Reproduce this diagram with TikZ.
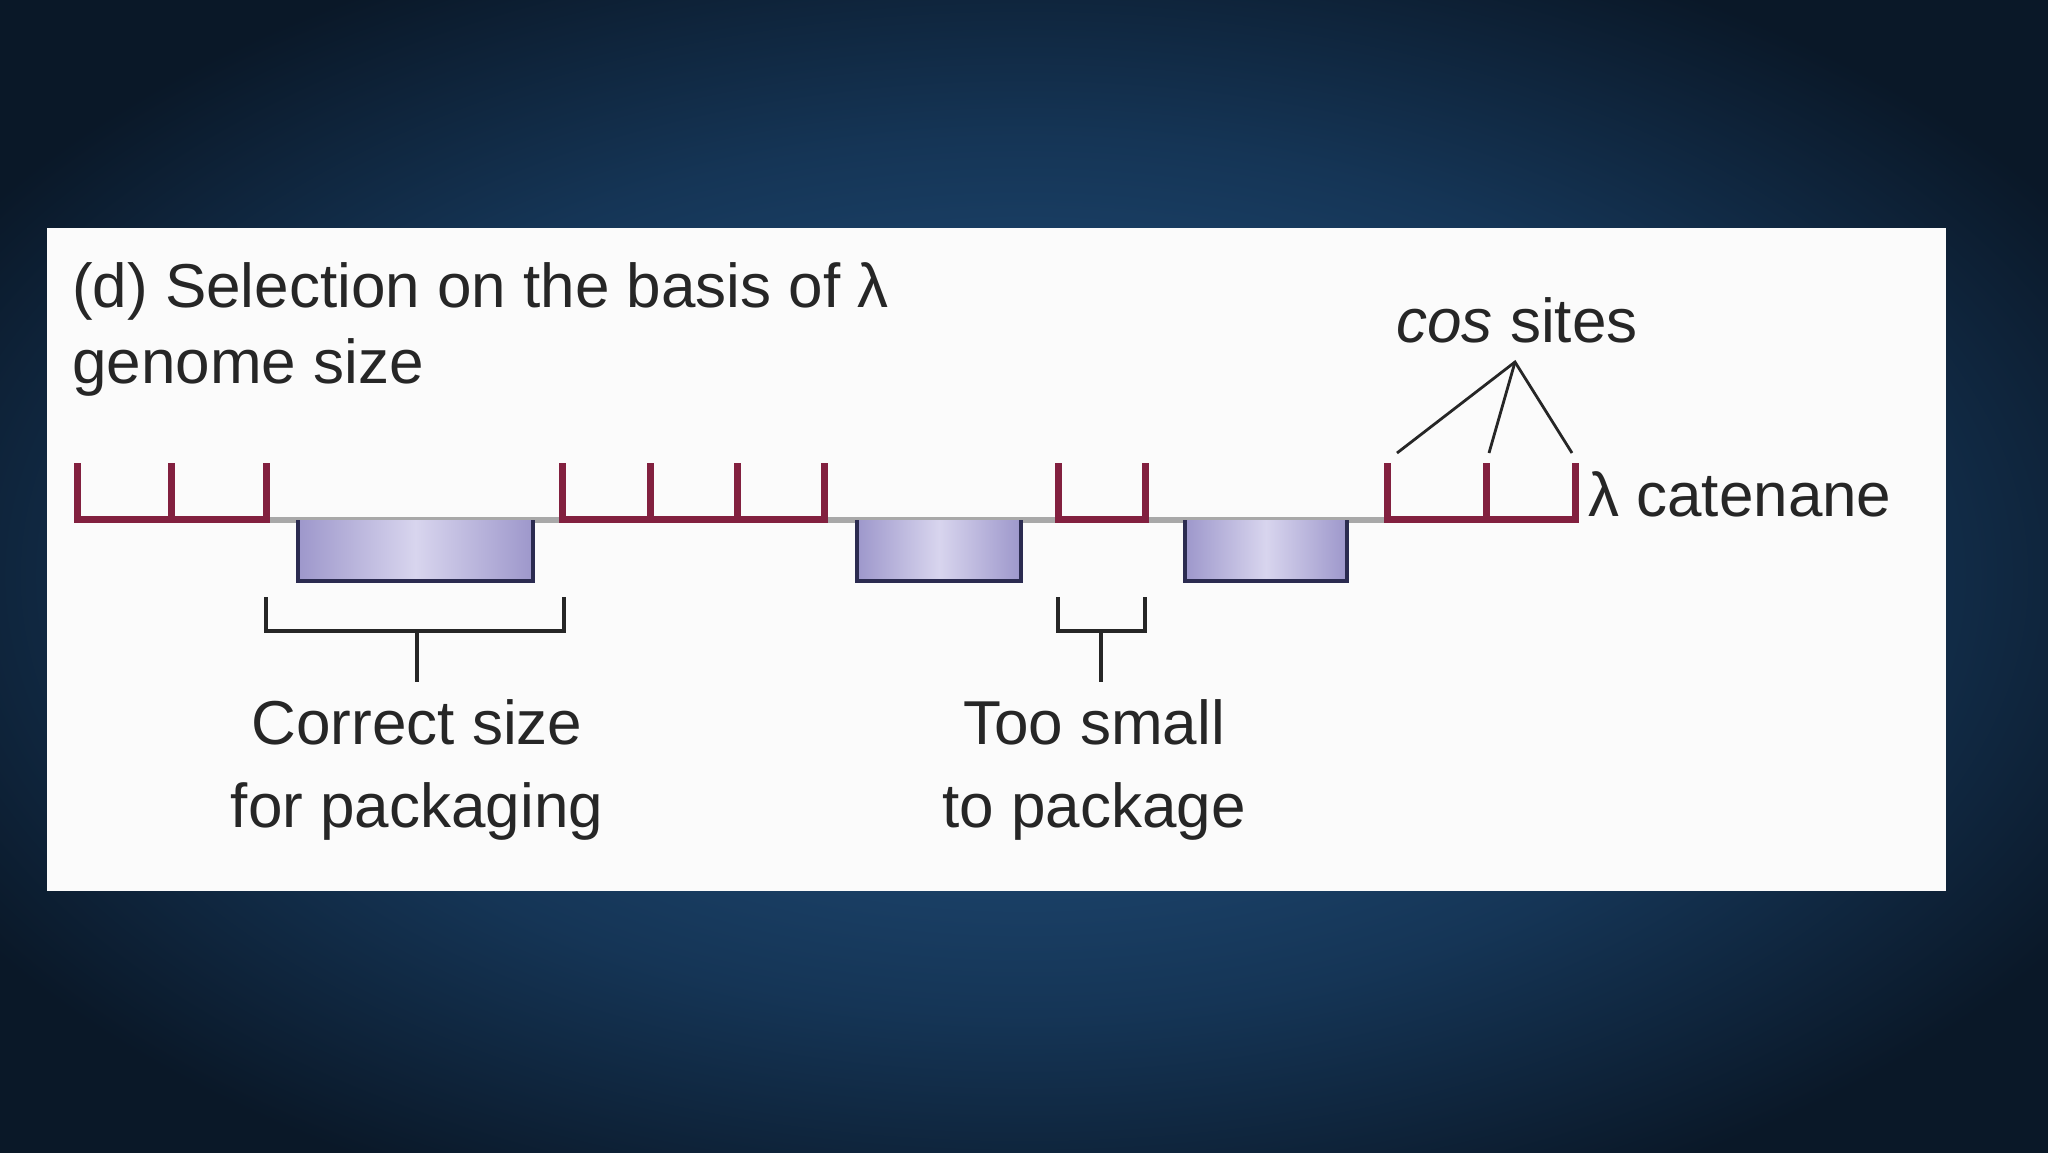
\documentclass[tikz,border=0pt]{standalone}
\usepackage{fontspec}
\setmainfont{Liberation Sans}
\definecolor{bgdark}{HTML}{0A1828}
\definecolor{bgmid2}{HTML}{153556}
\definecolor{bgmid}{HTML}{1F4A75}
\definecolor{panelc}{HTML}{FBFBFB}
\definecolor{redline}{HTML}{82203F}
\definecolor{grayline}{HTML}{A8A8A8}
\definecolor{lav}{HTML}{9D97CB}
\definecolor{lavlight}{HTML}{D8D5EE}
\definecolor{boxedge}{HTML}{2B2B50}
\definecolor{txt}{HTML}{262626}
\pgfdeclareradialshading{bgshade}{\pgfpoint{0bp}{0bp}}{color(0bp)=(bgmid); color(8bp)=(bgmid); color(19bp)=(bgmid2); color(30bp)=(bgdark); color(50bp)=(bgdark)}
\tikzset{
  lbl/.style={font=\fontsize{62}{74}\selectfont, text=txt, inner sep=0pt},
  redseg/.style={draw=redline, line width=7pt, line cap=rect, line join=miter},
  grayseg/.style={draw=grayline, line width=6.5pt},
  insert/.style={left color=lav, right color=lav, middle color=lavlight},
  insertedge/.style={draw=boxedge, line width=4.5pt},
  brk/.style={draw=txt, line width=3.5pt},
  pointer/.style={draw=txt, line width=2.8pt}
}
\begin{document}
\begin{tikzpicture}[x=1pt,y=-1pt]
\useasboundingbox (0,0) rectangle (2048,1152);
\shade[shading=bgshade] (0,0) rectangle (2048,1152);
\node (panel) [fill=panelc, inner sep=0pt, minimum width=1899pt, minimum height=663pt, anchor=north west] at (47,228) {};

% title
\node (title1) [lbl, anchor=base west] at (72,307) {(d) Selection on the basis of λ};
\node (title2) [lbl, anchor=base west] at (72,383) {genome size};

% backbone
\coordinate (bbL) at (77,520);
\coordinate (bbR) at (1575,520);
\draw[grayseg] (bbL) -- (bbR);

% inserts
\shade[insert] (298,520) rectangle (533,581);
\draw[insertedge] (298,520) -- (298,581) -- (533,581) -- (533,520);
\shade[insert] (857,520) rectangle (1021,581);
\draw[insertedge] (857,520) -- (857,581) -- (1021,581) -- (1021,520);
\shade[insert] (1185,520) rectangle (1347,581);
\draw[insertedge] (1185,520) -- (1185,581) -- (1347,581) -- (1347,520);

% lambda genomes (red)
\draw[redseg] (77,466) -- (77,519) -- (266,519) -- (266,466);
\draw[redseg] (171,466) -- (171,519);
\draw[redseg] (562,466) -- (562,519) -- (824,519) -- (824,466);
\draw[redseg] (650,466) -- (650,519);
\draw[redseg] (737,466) -- (737,519);
\draw[redseg] (1058,466) -- (1058,519) -- (1145,519) -- (1145,466);
\draw[redseg] (1387,466) -- (1387,519) -- (1575,519) -- (1575,466);
\draw[redseg] (1486,466) -- (1486,519);

% cos sites
\node (cos) [lbl, anchor=base] at (1517,342) {\textit{cos} sites};
\coordinate (apex) at (1515,362);
\coordinate (c1) at (1397,453);
\coordinate (c2) at (1489,453);
\coordinate (c3) at (1572,453);
\draw[pointer] (c1) -- (apex) -- (c3);
\draw[pointer] (apex) -- (c2);

\node (cat) [lbl, anchor=base west] at (1588,516) {λ catenane};

% bracket 1
\coordinate (b1) at (417,631);
\draw[brk] (266,597) -- (266,631) -- (564,631) -- (564,597);
\node (ok1) [lbl, anchor=base] at (417,744) {Correct size};
\node (ok2) [lbl, anchor=base] at (417,827) {for packaging};
\path ([yshift=17pt]ok1.north) coordinate (t1);
\draw[brk] (b1) -- (b1 |- t1);

% bracket 2
\coordinate (b2) at (1101,631);
\draw[brk] (1058,597) -- (1058,631) -- (1145,631) -- (1145,597);
\node (sm1) [lbl, anchor=base] at (1094,744) {Too small};
\node (sm2) [lbl, anchor=base] at (1094,827) {to package};
\path ([yshift=17pt]sm1.north) coordinate (t2);
\draw[brk] (b2) -- (b2 |- t2);
\end{tikzpicture}
\end{document}
